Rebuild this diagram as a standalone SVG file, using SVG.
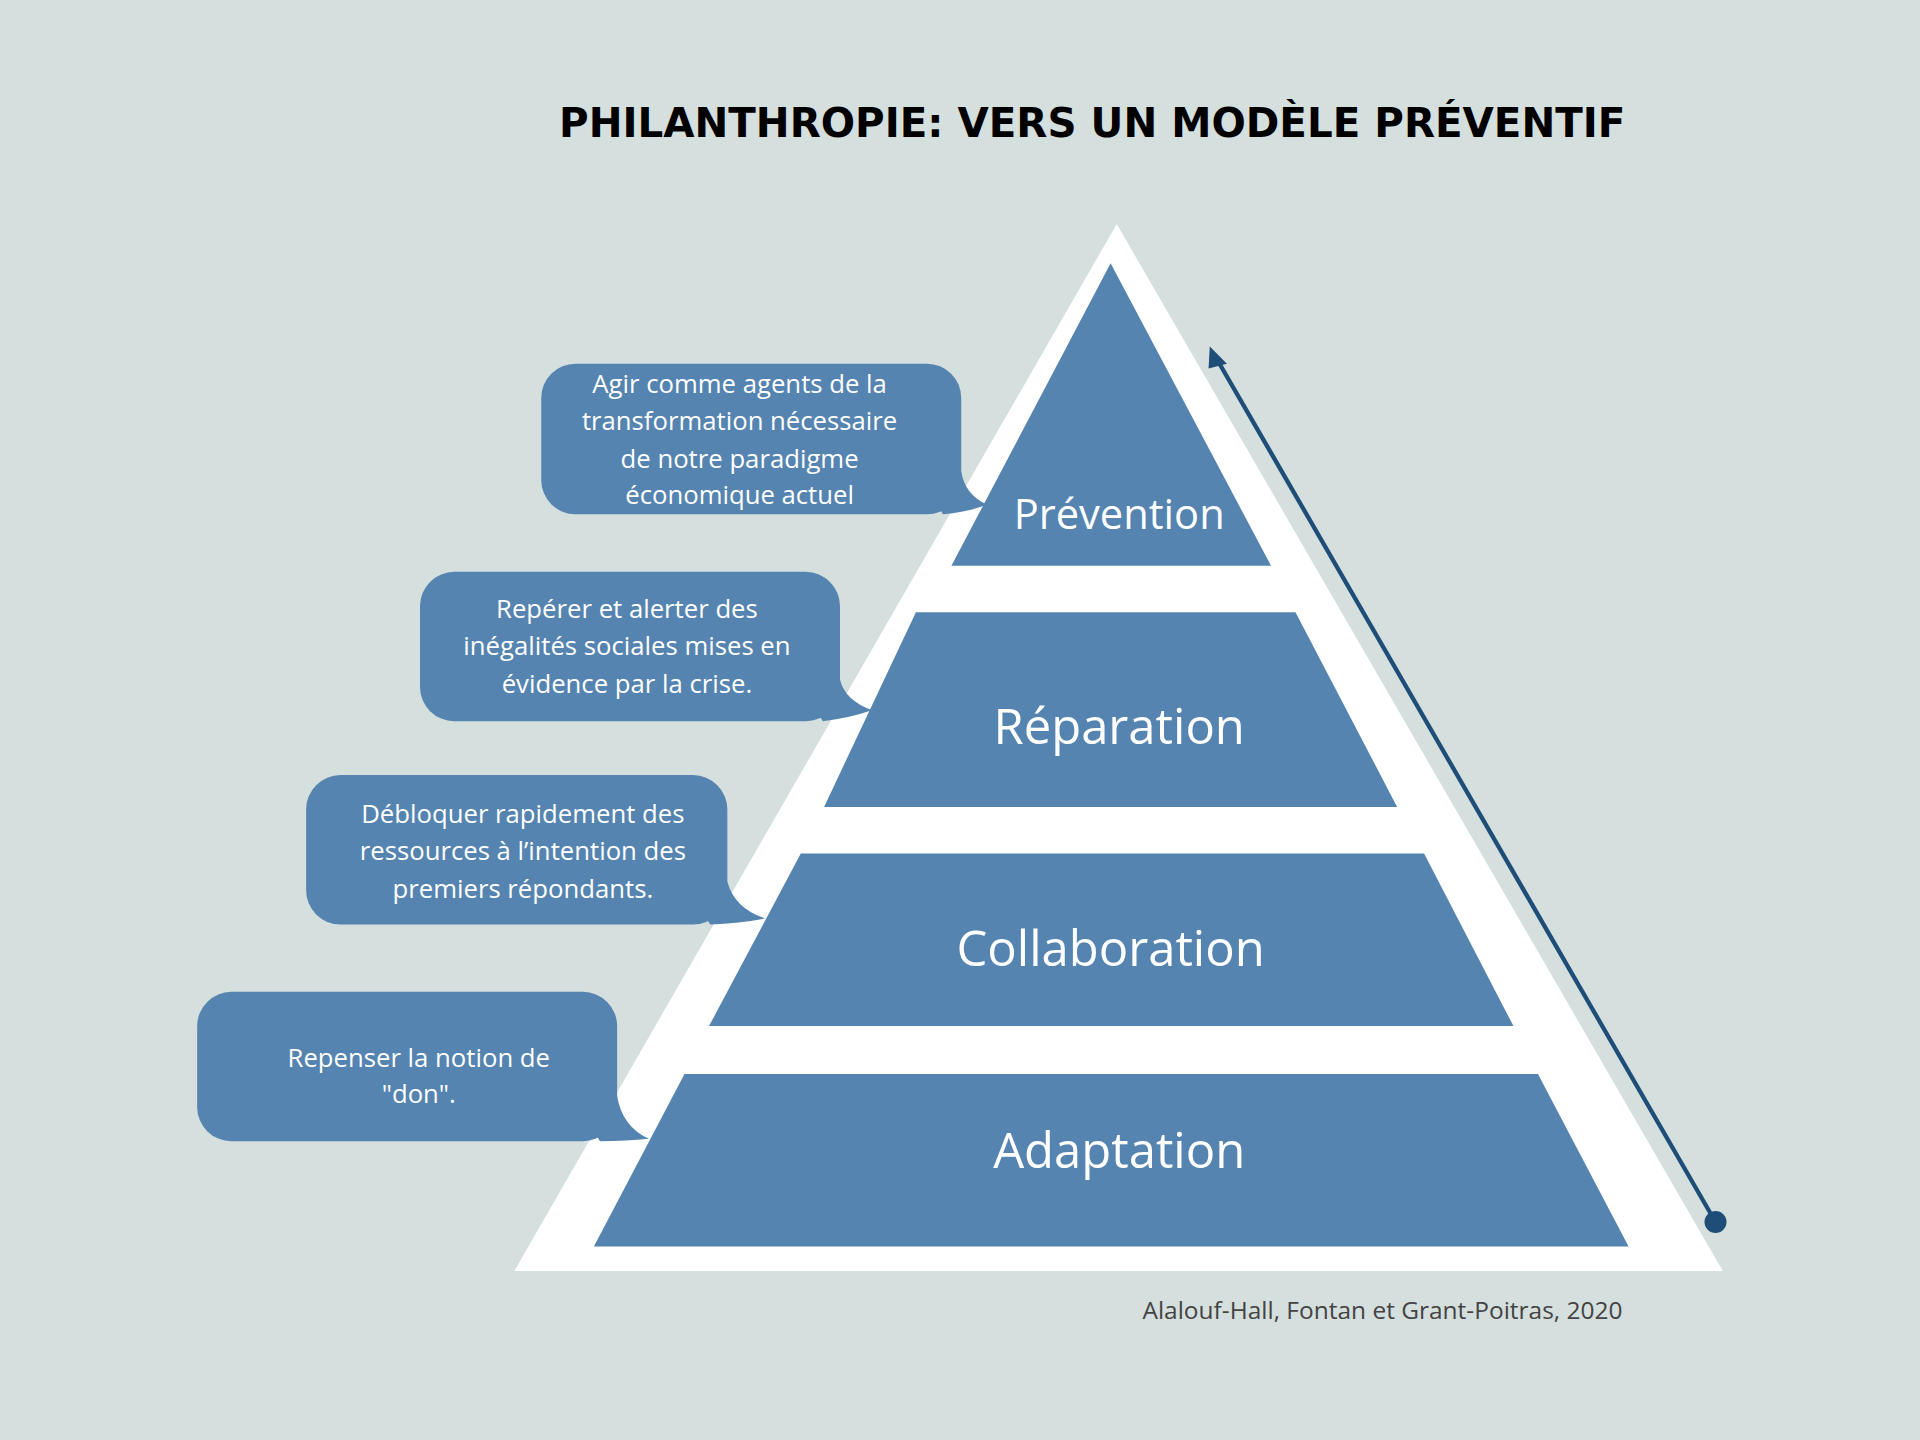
<svg xmlns="http://www.w3.org/2000/svg" width="1920" height="1440" viewBox="0 0 1920 1440">
<style>
.b{fill:#5584b0}
.t{font-family:"Open Sans","Liberation Sans",sans-serif;fill:#fff;text-anchor:middle}
.c{font-size:21px}
</style>
<rect width="1920" height="1440" fill="#d5dfdd"/>
<g transform="scale(1.22449)">
<text x="892" y="112" text-anchor="middle" font-family="'DejaVu Sans','Liberation Sans',sans-serif" font-weight="bold" font-size="33" fill="#000">PHILANTHROPIE: VERS UN MODÈLE PRÉVENTIF</text>
<polygon points="912,183 420,1038 1407,1038" fill="#fff"/>
<g id="prevention"><polygon class="b" points="907,215 777,462 1038,462"/><text class="t" x="914" y="432" font-size="34">Prévention</text></g>
<g id="reparation"><polygon class="b" points="748,500 1058,500 1141,659 673,659"/><text class="t" x="914" y="608" font-size="40">Réparation</text></g>
<g id="collaboration"><polygon class="b" points="654,697 1163,697 1236,838 579,838"/><text class="t" x="907" y="789" font-size="40">Collaboration</text></g>
<g id="adaptation"><polygon class="b" points="559,877 1256,877 1330,1018 485,1018"/><text class="t" x="914" y="954" font-size="40">Adaptation</text></g>
<g id="connectors">
<line x1="1401" y1="998" x2="993" y2="292" stroke="#1e4e78" stroke-width="3.5"/>
<polygon points="988,283 1002,297 987,301" fill="#1e4e78"/>
<circle cx="1401" cy="998" r="9" fill="#1e4e78"/>
</g>
<g id="callout1"><rect class="b" x="442" y="297" width="343" height="123" rx="28"/><path class="b" d="M760 400 L770 420 Q792 418 806 412 Q788 404 785 385 Z"/>
<text class="t c" x="604" y="321">Agir comme agents de la</text><text class="t c" x="604" y="351">transformation nécessaire</text><text class="t c" x="604" y="382">de notre paradigme</text><text class="t c" x="604" y="412">économique actuel</text></g>
<g id="callout2"><rect class="b" x="343" y="467" width="343" height="122" rx="28"/><path class="b" d="M660 570 L672 589 Q695 586 712 580 Q690 572 686 555 Z"/>
<text class="t c" x="512" y="505">Repérer et alerter des</text><text class="t c" x="512" y="535">inégalités sociales mises en</text><text class="t c" x="512" y="566">évidence par la crise.</text></g>
<g id="callout3"><rect class="b" x="250" y="633" width="344" height="122" rx="28"/><path class="b" d="M568 735 L580 755 Q605 754 625 750 Q600 742 594 720 Z"/>
<text class="t c" x="427" y="672">Débloquer rapidement des</text><text class="t c" x="427" y="702">ressources à l’intention des</text><text class="t c" x="427" y="733">premiers répondants.</text></g>
<g id="callout4"><rect class="b" x="161" y="810" width="343" height="122" rx="28"/><path class="b" d="M478 912 L490 932 Q512 932 530 930 Q508 920 504 895 Z"/>
<text class="t c" x="342" y="871">Repenser la notion de</text><text class="t c" x="342" y="901">"don".</text></g>
<text x="1129" y="1077" text-anchor="middle" font-family="'Open Sans','Liberation Sans',sans-serif" font-size="20" fill="#444">Alalouf-Hall, Fontan et Grant-Poitras, 2020</text>
</g>
</svg>
